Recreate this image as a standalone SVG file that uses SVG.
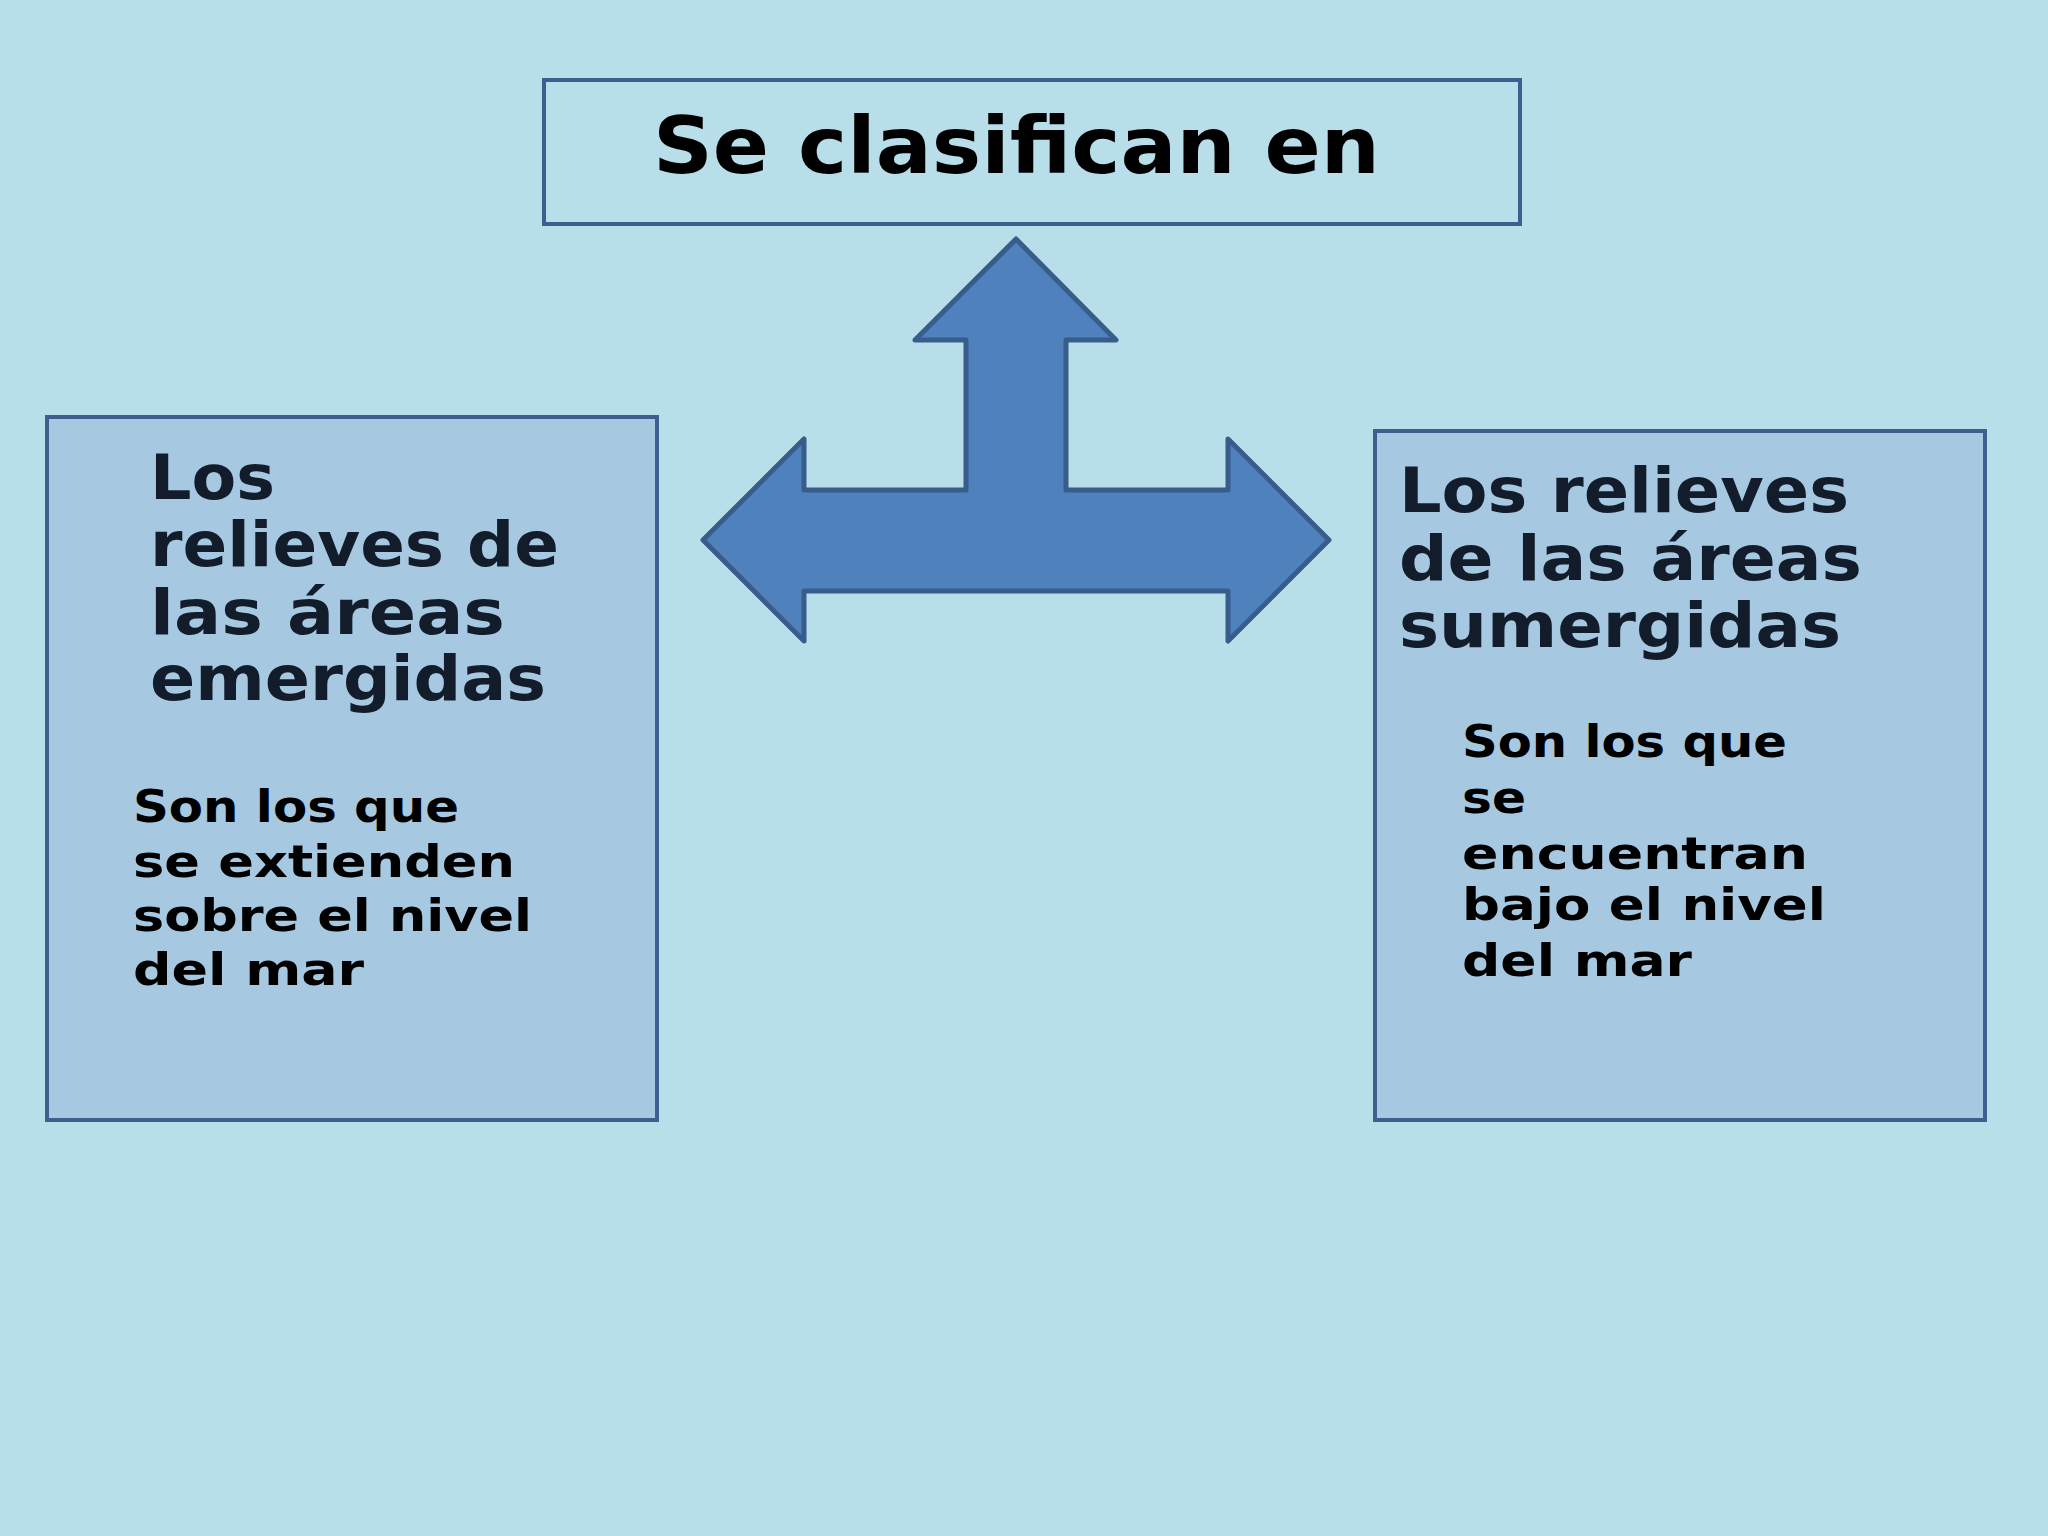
<svg xmlns="http://www.w3.org/2000/svg" width="2048" height="1536" viewBox="0 0 2048 1536">
<style>
.box{stroke:#3D5F8F;stroke-width:4}
.t{font-family:"DejaVu Sans","Liberation Sans",sans-serif;font-weight:bold;fill:#121C2B}
.h{font-size:62px}
.s{font-size:44px;fill:#000}
.top{font-size:78px;fill:#000}
.arrow{fill:#4F81BD;stroke:#385D8A;stroke-width:5;stroke-linejoin:round}
</style>
<rect width="2048" height="1536" fill="#B8DFE9"/>
<g id="node-top">
<rect class="box" x="544" y="80" width="976" height="144" fill="#B8DFE9"/>
<text class="t top" x="653" y="173" textLength="727" lengthAdjust="spacingAndGlyphs">Se clasifican en</text>
</g>
<g id="connectors">
<path class="arrow" d="M1016,239 L1116,340 L1066,340 L1066,490 L1228,490 L1228,439 L1329,540 L1228,641 L1228,591 L804,591 L804,641 L703,540 L804,439 L804,490 L966,490 L966,340 L915,340 Z"/>
</g>
<g id="node-left">
<rect class="box" x="47" y="417" width="610" height="703" fill="#A6C9E1"/>
<text class="t h" x="150" y="499" textLength="125" lengthAdjust="spacingAndGlyphs">Los</text>
<text class="t h" x="150" y="566" textLength="409" lengthAdjust="spacingAndGlyphs">relieves de</text>
<text class="t h" x="150" y="634" textLength="355" lengthAdjust="spacingAndGlyphs">las áreas</text>
<text class="t h" x="150" y="700" textLength="396" lengthAdjust="spacingAndGlyphs">emergidas</text>
<text class="t s" x="133" y="822" textLength="326" lengthAdjust="spacingAndGlyphs">Son los que</text>
<text class="t s" x="133" y="877" textLength="382" lengthAdjust="spacingAndGlyphs">se extienden</text>
<text class="t s" x="133" y="931" textLength="399" lengthAdjust="spacingAndGlyphs">sobre el nivel</text>
<text class="t s" x="133" y="985" textLength="231" lengthAdjust="spacingAndGlyphs">del mar</text>
</g>
<g id="node-right">
<rect class="box" x="1375" y="431" width="610" height="689" fill="#A6C9E1"/>
<text class="t h" x="1399" y="512" textLength="450" lengthAdjust="spacingAndGlyphs">Los relieves</text>
<text class="t h" x="1399" y="580" textLength="463" lengthAdjust="spacingAndGlyphs">de las áreas</text>
<text class="t h" x="1399" y="647" textLength="442" lengthAdjust="spacingAndGlyphs">sumergidas</text>
<text class="t s" x="1462" y="757" textLength="325" lengthAdjust="spacingAndGlyphs">Son los que</text>
<text class="t s" x="1462" y="813" textLength="64" lengthAdjust="spacingAndGlyphs">se</text>
<text class="t s" x="1462" y="869" textLength="346" lengthAdjust="spacingAndGlyphs">encuentran</text>
<text class="t s" x="1462" y="920" textLength="364" lengthAdjust="spacingAndGlyphs">bajo el nivel</text>
<text class="t s" x="1462" y="976" textLength="230" lengthAdjust="spacingAndGlyphs">del mar</text>
</g>
</svg>
